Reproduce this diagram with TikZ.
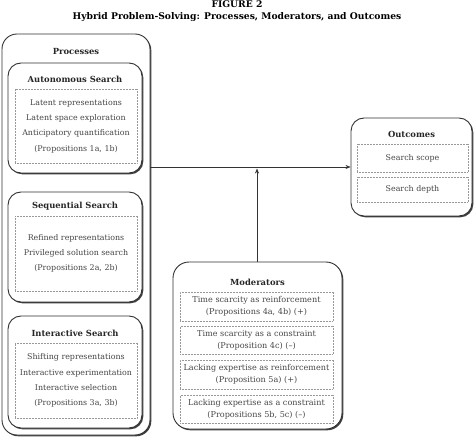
\documentclass[tikz,border=0pt]{standalone}
\usepackage{fontspec}
\setmainfont{DejaVu Serif}
\usetikzlibrary{shadows,arrows.meta}
\definecolor{txtgray}{RGB}{70,70,70}
\definecolor{linegray}{RGB}{50,50,50}
\tikzset{
  rbox/.style={draw=linegray, line width=0.9pt, rounded corners=13pt, fill=white,
    drop shadow={shadow xshift=1.3pt, shadow yshift=-1.3pt, fill=black!75, opacity=1},
    minimum width=#1, inner sep=0pt},
  dbox/.style={draw=black!40, densely dotted, line width=0.5pt, fill=white, inner sep=0pt,
    text=txtgray, align=center},
  ttl/.style={font=\fontsize{8.4}{9}\selectfont\bfseries, text=black!85},
  body/.style={font=\fontsize{7.9}{15.3}\selectfont},
  bodytwo/.style={font=\fontsize{8.1}{11.8}\selectfont},
  arr/.style={draw=black!80, line width=0.6pt},
}
\begin{document}
\begin{tikzpicture}[x=1pt,y=-1pt]
\useasboundingbox (0,0) rectangle (474,438);
% titles
\node[font=\fontsize{9.2}{11}\selectfont\bfseries] (fig) at (237,4) {FIGURE 2};
\node[font=\fontsize{9.2}{11}\selectfont\bfseries] (title) at (237,17.5) {Hybrid Problem-Solving: Processes, Moderators, and Outcomes};
% Processes
\node[rbox=148pt, minimum height=401pt, rounded corners=15pt] (procs) at (76,234.5) {};
\node[ttl] (procst) at (76,52) {Processes};
% Autonomous
\node[rbox=134pt, minimum height=110pt] (auto) at (75,118) {};
\node[ttl] (autot) at (75,79) {Autonomous Search};
\node[dbox, body, minimum width=122pt, minimum height=74pt] (autod) at (76,126)
  {Latent representations\\Latent space exploration\\Anticipatory quantification\\(Propositions 1a, 1b)};
% Sequential
\node[rbox=134pt, minimum height=110pt] (seq) at (75,247) {};
\node[ttl] (seqt) at (75,206) {Sequential Search};
\node[dbox, body, minimum width=122pt, minimum height=75pt] (seqd) at (76,253.5)
  {Refined representations\\Privileged solution search\\(Propositions 2a, 2b)};
% Interactive
\node[rbox=134pt, minimum height=112pt] (inter) at (75,372) {};
\node[ttl] (intert) at (75,333) {Interactive Search};
\node[dbox, body, minimum width=122pt, minimum height=75pt] (interd) at (76,380.5)
  {Shifting representations\\Interactive experimentation\\Interactive selection\\(Propositions 3a, 3b)};
% Outcomes
\node[rbox=121pt, minimum height=98pt] (outc) at (411.5,167) {};
\node[ttl] (outct) at (411.5,134) {Outcomes};
\node[dbox, body, minimum width=111pt, minimum height=28pt] (out1) at (412.5,158) {Search scope};
\node[dbox, body, minimum width=111pt, minimum height=25pt] (out2) at (412.5,189.5) {Search depth};
% Moderators
\node[rbox=169pt, minimum height=167pt, rounded corners=16pt] (mod) at (257.5,345.5) {};
\node[ttl] (modt) at (257.5,282) {Moderators};
\node[dbox, bodytwo, minimum width=153pt, minimum height=29pt] (m1) at (256.5,306.5)
  {Time scarcity as reinforcement\\(Propositions 4a, 4b) (+)};
\node[dbox, bodytwo, minimum width=153pt, minimum height=28pt] (m2) at (256.5,340)
  {Time scarcity as a constraint\\(Proposition 4c) (--)};
\node[dbox, bodytwo, minimum width=153pt, minimum height=29pt] (m3) at (256.5,374.5)
  {Lacking expertise as reinforcement\\(Proposition 5a) (+)};
\node[dbox, bodytwo, minimum width=153pt, minimum height=28pt] (m4) at (256.5,409)
  {Lacking expertise as a constraint\\(Propositions 5b, 5c) (--)};
% connectors
\coordinate (j) at (257,167);
\draw[arr, -{Stealth[length=5pt,width=4pt]}] (procs.east |- j) -- (outc.west);
\draw[arr, -{Stealth[length=5pt,width=4pt]}] (mod.north -| j) -- ([yshift=-1.5pt]j);
\end{tikzpicture}
\end{document}
